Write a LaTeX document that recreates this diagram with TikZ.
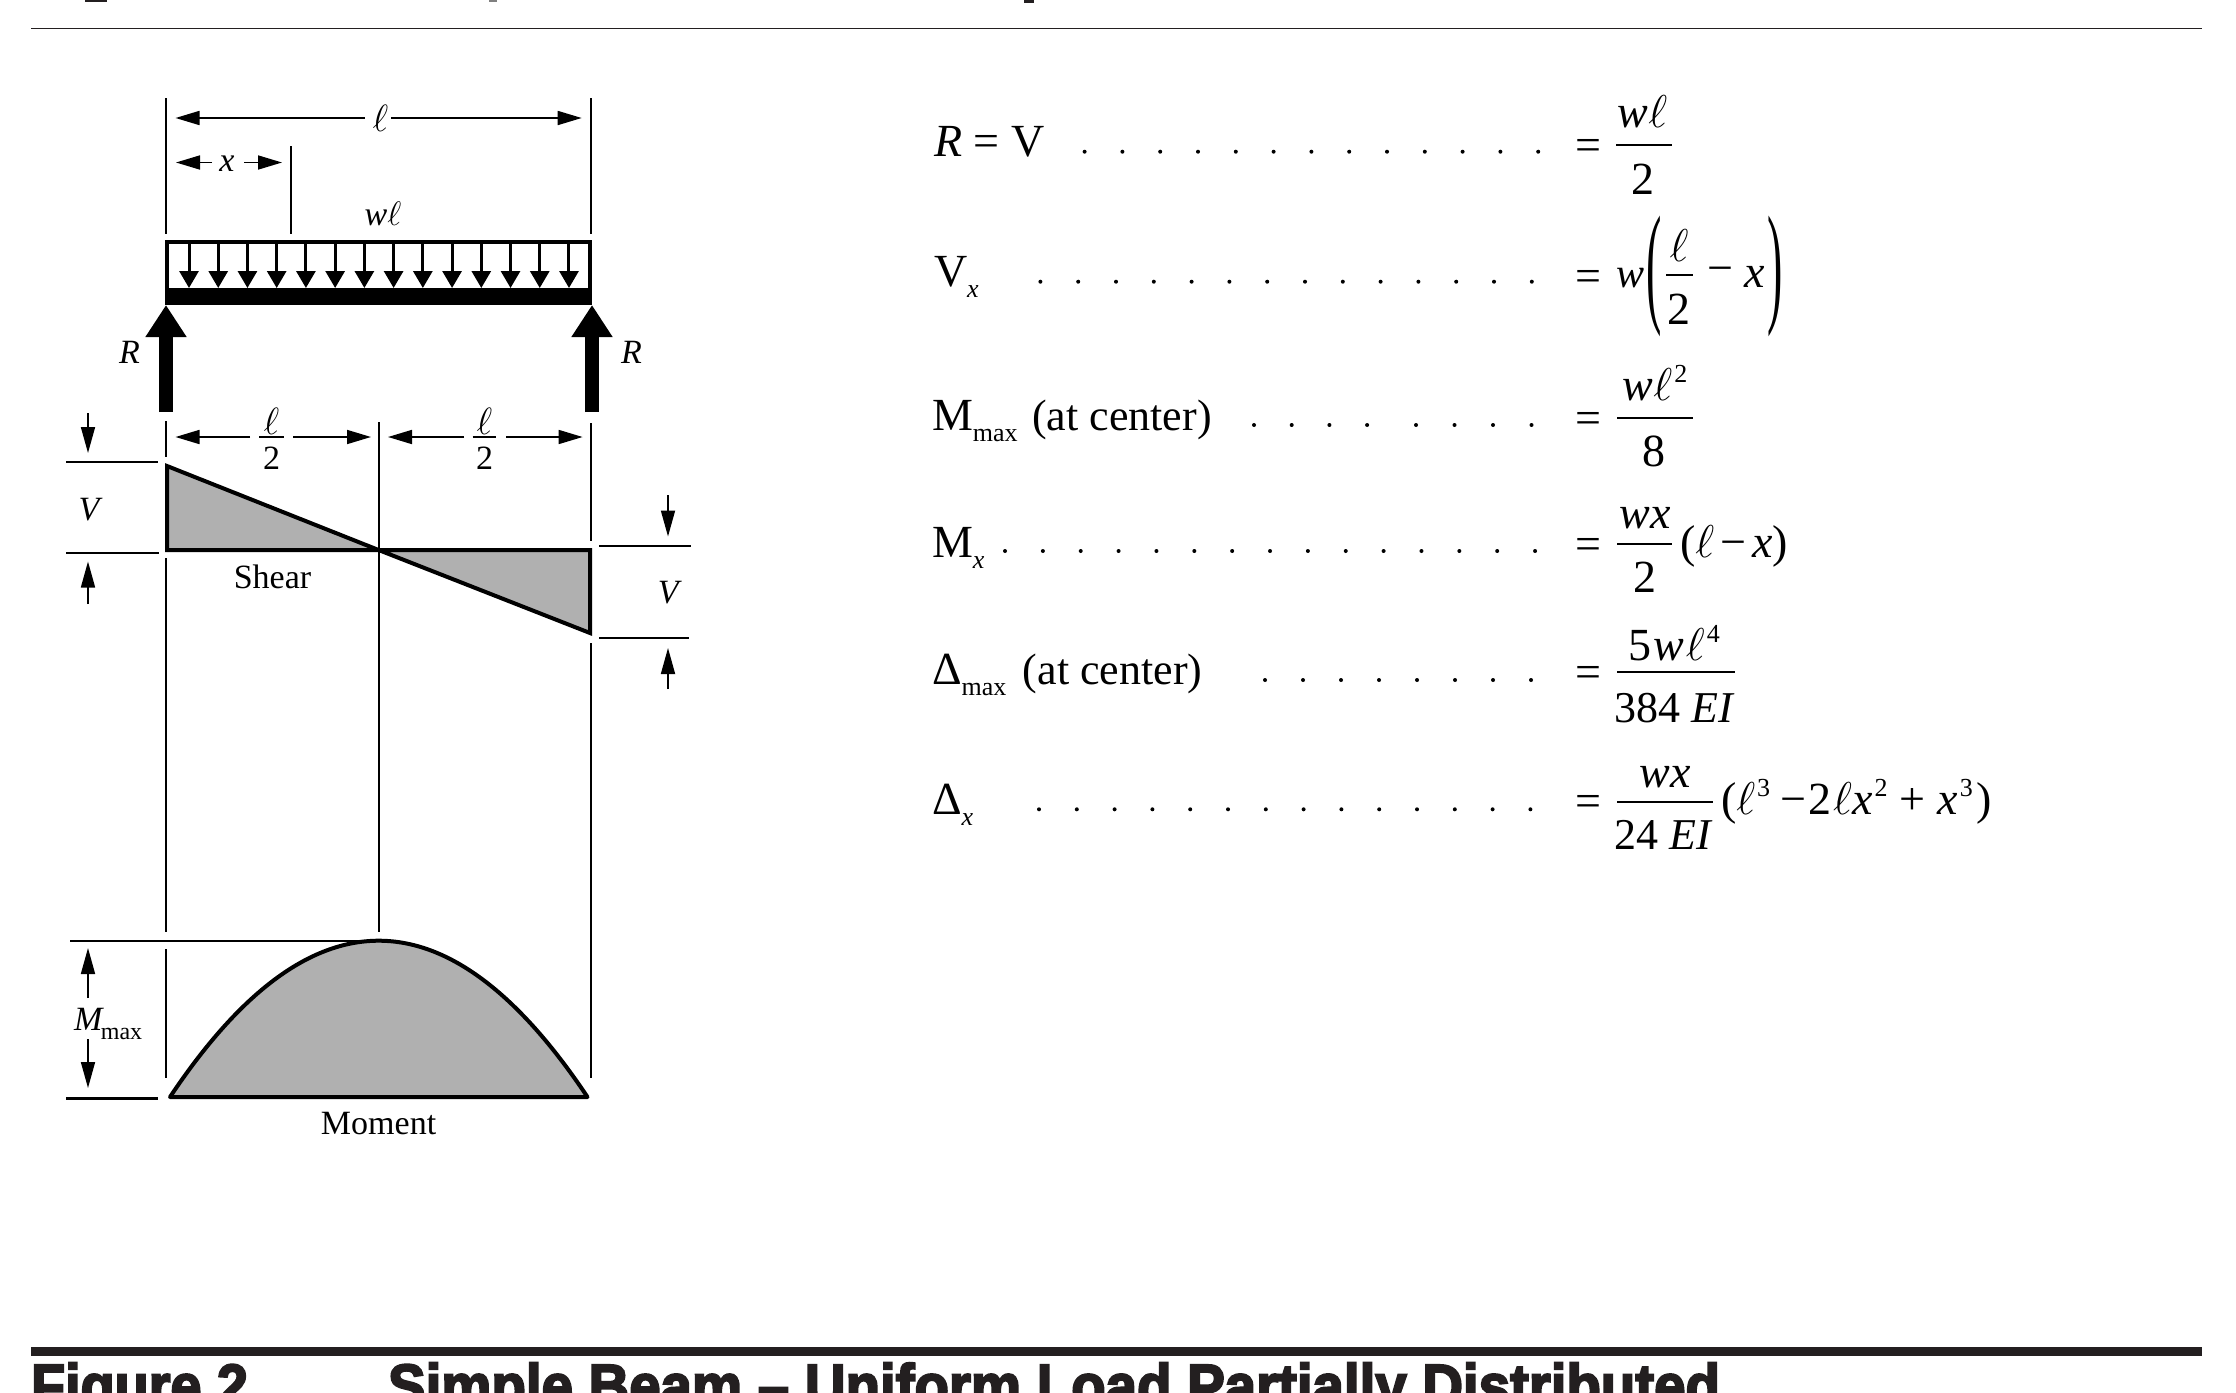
\documentclass[tikz,border=0pt]{standalone}
\usepackage{fix-cm}
\usepackage{graphicx}
\usepackage{fontspec}
\setmainfont{Liberation Serif}
\newfontfamily\titlefont[FakeBold=3.5]{Liberation Sans Bold}
\usetikzlibrary{arrows.meta}
\definecolor{shade}{HTML}{B0B0B0}
\definecolor{ink}{HTML}{231F20}
\newcommand{\fs}[1]{\fontsize{#1}{#1}\selectfont}
\newcommand{\lsub}[1]{\raisebox{-5.5pt}{\fs{13}#1}}
\newcommand{\lsubs}[1]{\raisebox{-4.5pt}{\fs{12}#1}}
\newcommand{\lsup}[1]{\kern1pt\raisebox{9pt}{\fs{13}#1}}
\newcommand{\wl}{\textit{w}$\ell$}
\newcommand{\atc}{\kern1.5pt{\fs{22}(at center)}}
\tikzset{
  every node/.style={inner sep=0pt,outer sep=0pt},
  dim/.style={line width=0.85pt,-{Triangle[length=12pt,width=7pt]}},
  vdim/.style={line width=0.85pt,-{Triangle[length=13pt,width=7pt]}},
  ext/.style={line width=0.9pt},
  tick/.style={line width=1pt},
  thicktick/.style={line width=1.6pt},
  diagram/.style={line width=2pt,miter limit=10},
  lab/.style={font=\fs{17}},
  ellab/.style={font=\fs{19}},
  eqtext/.style={font=\fs{23},anchor=base west},
  eqc/.style={font=\fs{23},anchor=base},
  eqsmall/.style={font=\fs{22},anchor=base},
  eqsign/.style={font=\fs{23}},
  bar/.style={line width=1pt},
  smallbar/.style={line width=0.8pt},
  loadarrow/.style={line width=1.5pt,-{Triangle[length=8.5pt,width=9.5pt]}},
  reaction/.style={line width=6.8pt,-{Triangle[length=16pt,width=19.5pt]}}
}
\newcommand{\dotrow}[4]{\foreach \i in {0,...,#3} \fill ({#1+\i*#4},#2) circle (1pt);}
\begin{document}
\begin{tikzpicture}[x=0.5pt,y=-0.5pt]
\useasboundingbox (0,0) rectangle (2236,1392);
\clip (0,0) rectangle (2236,1392);
\fill[white] (0,0) rectangle (2236,1392);
% cropped header remains and rule
\fill[ink] (85,0) rectangle (107,2);
\fill[gray] (489,0) rectangle (497,2);
\fill[ink] (1024,0) rectangle (1034,2.5);
\draw[ink,line width=0.8pt] (31,28.5) -- (2202,28.5);
% extension lines
\draw[ext] (166,98) -- (166,234);
\draw[ext] (591,98) -- (591,234);
\draw[ext] (291,146) -- (291,234);
\draw[ext] (166,421) -- (166,457);
\draw[ext] (166,558) -- (166,932);
\draw[ext] (166,949) -- (166,1078);
\draw[ext] (378.6,422) -- (378.6,932);
\draw[ext] (591,423) -- (591,541);
\draw[ext] (591,643) -- (591,1078);
% l and x dimensions
\node[ellab] (ell) at (380.5,118) {$\ell$};
\draw[dim] (364.5,118) -- (175.5,118);
\draw[dim] (391,118) -- (581.7,118);
\node[lab] (xlab) at (227,164) {\textit{x}};
\draw[dim] (212,162.5) -- (176,162.5);
\draw[dim] (244,162.5) -- (282,162.5);
\node[lab] (wl) at (383,214) {\wl};
% load
\draw[line width=2pt] (167,241.5) rectangle (590,295);
\foreach \i in {0,...,13} \draw[loadarrow] ({189+\i*29.23},243) -- ({189+\i*29.23},288);
\fill (165,288) rectangle (592,304.5);
% reactions
\draw[reaction] (166,412) -- (166,305);
\draw[reaction] (592,412) -- (592,305);
\node[lab] (rl) at (129.5,352) {\textit{R}};
\node[lab] (rr) at (631.5,352) {\textit{R}};
% l/2
\node[ellab] (h1) at (271.5,421) {$\ell$};
\node[lab] (h1b) at (271.5,458) {2};
\draw[smallbar] (259,437) -- (283.5,437);
\draw[dim] (250,437) -- (175.5,437);
\draw[dim] (293,437) -- (371,437);
\node[ellab] (h2) at (484.5,421) {$\ell$};
\node[lab] (h2b) at (484.5,458) {2};
\draw[smallbar] (472.6,437) -- (496.4,437);
\draw[dim] (464,437) -- (388,437);
\draw[dim] (506,437) -- (582.6,437);
% shear
\draw[diagram,fill=shade] (167,466) -- (378.6,550) -- (167,550) -- cycle;
\draw[diagram,fill=shade] (378.6,550) -- (590,550) -- (590,633) -- cycle;
\node[lab] (shear) at (272.5,577) {Shear};
\node[lab] (vl) at (90.6,509.5) {\textit{V}};
\node[lab] (vr) at (670,592.5) {\textit{V}};
\draw[tick] (66,462) -- (158,462);
\draw[tick] (66,553) -- (159,553);
\draw[vdim] (88,413) -- (88,453);
\draw[vdim] (88,604) -- (88,561.5);
\draw[tick] (599,546) -- (691,546);
\draw[tick] (599,638) -- (689,638);
\draw[vdim] (668,495) -- (668,536.5);
\draw[vdim] (668,689) -- (668,648);
% moment
\draw[tick,line width=1.2pt] (70,941) -- (378,941);
\draw[diagram,fill=shade,line join=round] (170,1097) .. controls (309.1,888.6) and (448.3,888.6) .. (587.5,1097) -- cycle;
\draw[thicktick] (66,1098.3) -- (158,1098.3);
\draw[vdim] (88,998) -- (88,948);
\draw[vdim] (88,1039) -- (88,1088);
\node[lab,anchor=base west] (mmax) at (74,1030) {\textit{M}\kern-1.5pt\lsubs{max}};
\node[lab] (moment) at (378.6,1124) {Moment};
% equations
\node[eqtext] (e1) at (934,156.5) {\textit{R} = V};
\dotrow{1084.6}{151.7}{12}{37.8}
\node[eqsign] (q1) at (1588,149.5) {=};
\node[eqc] (n1) at (1642.5,127) {\wl};
\draw[bar] (1616,145) -- (1672,145);
\node[eqc] (d1) at (1642.5,194.5) {2};

\node[eqtext] (e2) at (934,286) {V\lsub{\textit{x}}};
\dotrow{1040.4}{281.7}{13}{37.8}
\node[eqsign] (q2) at (1588,281) {=};
\node[eqtext,font=\fs{21}] (w2) at (1616,287) {\textit{w}};
\node[font=\fs{23}] (pl) at (1654,276) {\scalebox{1}[2.9]{(}};
\node[eqc] (n2) at (1679,261.5) {$\ell$};
\draw[bar] (1666,275) -- (1693,275);
\node[eqc] (d2) at (1679,324.5) {2};
\node[eqsign] (m2) at (1720,275) {−};
\node[eqc] (x2) at (1755,287) {\textit{x}};
\node[font=\fs{23}] (pr) at (1775,276) {\scalebox{1}[2.9]{)}};

\node[eqtext] (e3) at (932,430) {M\lsub{max} \atc};
\dotrow{1254}{425}{3}{37.7}
\dotrow{1416}{425}{3}{38.5}
\node[eqsign] (q3) at (1588,422.5) {=};
\node[eqc] (n3) at (1655,400) {\wl\lsup{2}};
\draw[bar] (1617,417.7) -- (1693,417.7);
\node[eqc] (d3) at (1654,466.5) {8};

\node[eqtext] (e4) at (932,557) {M\lsub{\textit{x}}};
\dotrow{1005}{551}{14}{37.86}
\node[eqsign] (q4) at (1588,548.5) {=};
\node[eqc] (n4) at (1645,528) {\textit{wx}};
\draw[bar] (1617,544) -- (1672,544);
\node[eqc] (d4) at (1645,592) {2};
\node[eqtext] (t4) at (1680,557) {($\ell$\kern3pt−\kern3pt\textit{x})};

\node[eqtext] (e5) at (932,684.5) {Δ\lsub{max} \kern1pt\atc};
\dotrow{1265}{680}{7}{38}
\node[eqsign] (q5) at (1588,676.5) {=};
\node[eqc] (n5) at (1674,660) {5\kern1pt\textit{w}\kern1pt$\ell$\lsup{4}};
\draw[bar] (1617,672) -- (1735,672);
\node[eqsmall] (d5) at (1675,722) {384 \textit{EI}};

\node[eqtext] (e6) at (932,814.5) {Δ\lsub{\textit{x}}};
\dotrow{1039}{809.3}{13}{37.8}
\node[eqsign] (q6) at (1588,806) {=};
\node[eqc] (n6) at (1665,787) {\textit{wx}};
\draw[bar] (1617,802) -- (1713,802);
\node[eqsmall] (d6) at (1664,849) {24 \textit{EI}};
\node[eqtext] (t6) at (1721,814) {($\ell$\lsup{3}\kern5pt−\kern1pt2\kern1pt$\ell$\textit{x}\lsup{2}\kern6pt+\kern6pt\textit{x}\lsup{3}\kern2pt)};

% bottom bar and cropped title
\fill[ink] (31,1347) rectangle (2202,1356);
\node[anchor=base west,text=ink] (figno) at (31,1407) {\resizebox{108.5pt}{\height}{\titlefont\fs{30.5}Figure 2}};
\node[anchor=base west,text=ink] (title) at (388,1407) {\resizebox{666pt}{\height}{\titlefont\fs{30.5}Simple Beam – Uniform Load Partially Distributed}};
\end{tikzpicture}
\end{document}
